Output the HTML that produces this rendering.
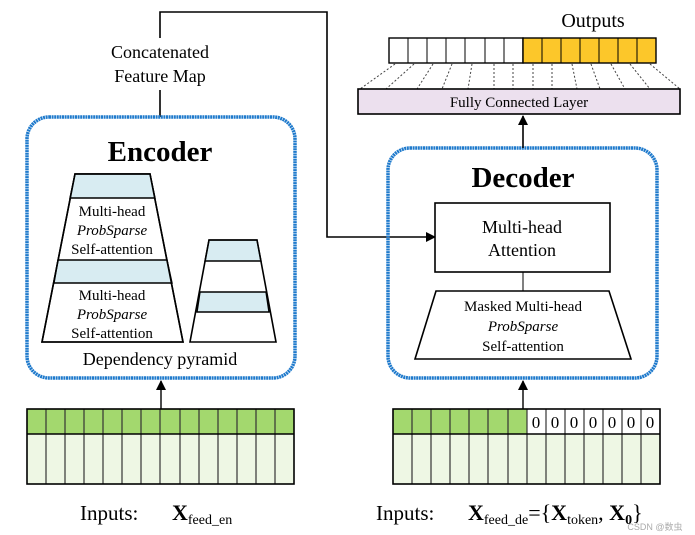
<!DOCTYPE html>
<html><head><meta charset="utf-8"><style>
html,body{margin:0;padding:0;background:#fff}
svg{display:block;font-family:"Liberation Serif",serif}
</style></head><body>
<svg width="695" height="535" viewBox="0 0 695 535" xmlns="http://www.w3.org/2000/svg">
<defs><marker id="a" markerWidth="10" markerHeight="10" refX="9" refY="5" orient="auto" markerUnits="userSpaceOnUse"><path d="M0,0 L10,5 L0,10 z" fill="#000"/></marker></defs>

<!-- top connector -->
<polyline points="160,38 160,12 327,12 327,237 435,237" fill="none" stroke="#000" stroke-width="1.6" marker-end="url(#a)"/>
<line x1="160" y1="90" x2="160" y2="117" stroke="#000" stroke-width="1.6"/>
<text x="160" y="58" font-size="18" text-anchor="middle">Concatenated</text>
<text x="160" y="82" font-size="18" text-anchor="middle">Feature Map</text>

<!-- Encoder -->
<rect x="27" y="117" width="268" height="261" rx="22" fill="none" stroke="#1f7acc" stroke-width="3.5" stroke-dasharray="2 0.6"/>
<text x="160" y="161" font-size="29" font-weight="bold" text-anchor="middle">Encoder</text>
<polygon points="75,174 150,174 183,342 42,342" fill="#fff" stroke="#000" stroke-width="1.6"/>
<polygon points="75,174 150,174 155,198 70,198" fill="#d8ecf2" stroke="#000" stroke-width="1.4"/>
<polygon points="58,260 167,260 172,283 54,283" fill="#d8ecf2" stroke="#000" stroke-width="1.4"/>
<polygon points="75,174 150,174 183,342 42,342" fill="none" stroke="#000" stroke-width="1.6"/>
<g font-size="15" text-anchor="middle">
<text x="112" y="216">Multi-head</text>
<text x="112" y="235" font-style="italic">ProbSparse</text>
<text x="112" y="254">Self-attention</text>
<text x="112" y="300">Multi-head</text>
<text x="112" y="319" font-style="italic">ProbSparse</text>
<text x="112" y="338">Self-attention</text>
</g>
<polygon points="209,240 257,240 261,261 205,261" fill="#d8ecf2" stroke="#000" stroke-width="1.4"/>
<polygon points="200,292 266,292 269,312 197,312" fill="#d8ecf2" stroke="#000" stroke-width="1.4"/>
<polygon points="209,240 257,240 276,342 190,342" fill="none" stroke="#000" stroke-width="1.6"/>
<text x="160" y="365" font-size="18" text-anchor="middle">Dependency pyramid</text>

<!-- Decoder -->
<rect x="388" y="148" width="269" height="230" rx="22" fill="none" stroke="#1f7acc" stroke-width="3.5" stroke-dasharray="2 0.6"/>
<text x="523" y="187" font-size="29" font-weight="bold" text-anchor="middle">Decoder</text>
<rect x="435" y="203" width="175" height="69" fill="#fff" stroke="#000" stroke-width="1.6"/>
<text x="522" y="233" font-size="18" text-anchor="middle">Multi-head</text>
<text x="522" y="256" font-size="18" text-anchor="middle">Attention</text>
<line x1="523" y1="272" x2="523" y2="291" stroke="#000" stroke-width="1"/>
<polygon points="436,291 609,291 631,359 415,359" fill="#fff" stroke="#000" stroke-width="1.6"/>
<g font-size="15" text-anchor="middle">
<text x="523" y="311">Masked Multi-head</text>
<text x="523" y="331" font-style="italic">ProbSparse</text>
<text x="523" y="351">Self-attention</text>
</g>

<!-- Output -->
<text x="593" y="27" font-size="20" text-anchor="middle">Outputs</text>
<rect x="389" y="38" width="134" height="25" fill="#fff" stroke="#000" stroke-width="1.4"/>
<rect x="523" y="38" width="133" height="25" fill="#fcc72a" stroke="#000" stroke-width="1.4"/>
<g stroke="#000" stroke-width="1">
<line x1="408" y1="38" x2="408" y2="63"/><line x1="427" y1="38" x2="427" y2="63"/><line x1="446" y1="38" x2="446" y2="63"/><line x1="465" y1="38" x2="465" y2="63"/><line x1="485" y1="38" x2="485" y2="63"/><line x1="504" y1="38" x2="504" y2="63"/>
<line x1="542" y1="38" x2="542" y2="63"/><line x1="561" y1="38" x2="561" y2="63"/><line x1="580" y1="38" x2="580" y2="63"/><line x1="599" y1="38" x2="599" y2="63"/><line x1="618" y1="38" x2="618" y2="63"/><line x1="637" y1="38" x2="637" y2="63"/>
</g>
<g stroke="#444" stroke-width="1" stroke-dasharray="2 2">
<line x1="395" y1="64" x2="360" y2="89"/><line x1="414" y1="64" x2="386" y2="89"/><line x1="433" y1="64" x2="417" y2="89"/><line x1="452" y1="64" x2="442" y2="89"/><line x1="472" y1="64" x2="468" y2="89"/><line x1="494" y1="64" x2="494" y2="89"/><line x1="513" y1="64" x2="513" y2="89"/><line x1="533" y1="64" x2="533" y2="89"/><line x1="552" y1="64" x2="552" y2="89"/><line x1="572" y1="64" x2="577" y2="89"/><line x1="591" y1="64" x2="600" y2="89"/><line x1="611" y1="64" x2="625" y2="89"/><line x1="630" y1="64" x2="650" y2="89"/><line x1="650" y1="64" x2="680" y2="89"/>
</g>
<rect x="358" y="89" width="322" height="25" fill="#ece0ee" stroke="#000" stroke-width="1.6"/>
<text x="519" y="107" font-size="15" text-anchor="middle">Fully Connected Layer</text>
<line x1="523" y1="148" x2="523" y2="116" stroke="#000" stroke-width="1.6" marker-end="url(#a)"/>

<!-- input arrows -->
<line x1="161" y1="409" x2="161" y2="381" stroke="#000" stroke-width="1.4" marker-end="url(#a)"/>
<line x1="523" y1="409" x2="523" y2="381" stroke="#000" stroke-width="1.4" marker-end="url(#a)"/>

<!-- encoder grid -->
<rect x="27" y="409" width="267" height="25" fill="#a3d86e"/>
<rect x="27" y="434" width="267" height="50" fill="#eef7e4"/>
<g stroke="#333" stroke-width="1.2">
<line x1="46" y1="409" x2="46" y2="484"/><line x1="65" y1="409" x2="65" y2="484"/><line x1="84" y1="409" x2="84" y2="484"/><line x1="103" y1="409" x2="103" y2="484"/><line x1="122" y1="409" x2="122" y2="484"/><line x1="141" y1="409" x2="141" y2="484"/><line x1="160" y1="409" x2="160" y2="484"/><line x1="180" y1="409" x2="180" y2="484"/><line x1="199" y1="409" x2="199" y2="484"/><line x1="218" y1="409" x2="218" y2="484"/><line x1="237" y1="409" x2="237" y2="484"/><line x1="256" y1="409" x2="256" y2="484"/><line x1="275" y1="409" x2="275" y2="484"/>
</g>
<line x1="27" y1="434" x2="294" y2="434" stroke="#000" stroke-width="1.6"/>
<rect x="27" y="409" width="267" height="75" fill="none" stroke="#000" stroke-width="1.6"/>

<!-- decoder grid -->
<rect x="393" y="409" width="134" height="25" fill="#a3d86e"/>
<rect x="393" y="434" width="267" height="50" fill="#eef7e4"/>
<g stroke="#333" stroke-width="1.2">
<line x1="412" y1="409" x2="412" y2="484"/><line x1="431" y1="409" x2="431" y2="484"/><line x1="450" y1="409" x2="450" y2="484"/><line x1="469" y1="409" x2="469" y2="484"/><line x1="488" y1="409" x2="488" y2="484"/><line x1="508" y1="409" x2="508" y2="484"/><line x1="527" y1="409" x2="527" y2="484"/><line x1="546" y1="409" x2="546" y2="484"/><line x1="565" y1="409" x2="565" y2="484"/><line x1="584" y1="409" x2="584" y2="484"/><line x1="603" y1="409" x2="603" y2="484"/><line x1="622" y1="409" x2="622" y2="484"/><line x1="641" y1="409" x2="641" y2="484"/>
</g>
<g font-size="17" text-anchor="middle">
<text x="536" y="428">0</text><text x="555" y="428">0</text><text x="574" y="428">0</text><text x="593" y="428">0</text><text x="612" y="428">0</text><text x="631" y="428">0</text><text x="650" y="428">0</text>
</g>
<line x1="393" y1="434" x2="660" y2="434" stroke="#000" stroke-width="1.6"/>
<rect x="393" y="409" width="267" height="75" fill="none" stroke="#000" stroke-width="1.6"/>

<!-- input labels -->
<text x="80" y="520" font-size="21">Inputs:</text>
<text x="172" y="520" font-size="22" font-weight="bold">X<tspan font-size="14" font-weight="normal" dy="4">feed_en</tspan></text>
<text x="376" y="520" font-size="21">Inputs:</text>
<text x="468" y="520" font-size="22"><tspan font-weight="bold">X</tspan><tspan font-size="14" dy="4">feed_de</tspan><tspan dy="-4">={</tspan><tspan font-weight="bold">X</tspan><tspan font-size="14" dy="4">token</tspan><tspan dy="-4">, </tspan><tspan font-weight="bold">X</tspan><tspan font-size="14" font-weight="bold" dy="4">0</tspan><tspan dy="-4">}</tspan></text>
<text x="655" y="530" font-size="9" fill="#aaa" font-family="Liberation Sans, Noto Sans CJK SC, sans-serif" text-anchor="middle">CSDN @数虫</text>
</svg>
</body></html>
